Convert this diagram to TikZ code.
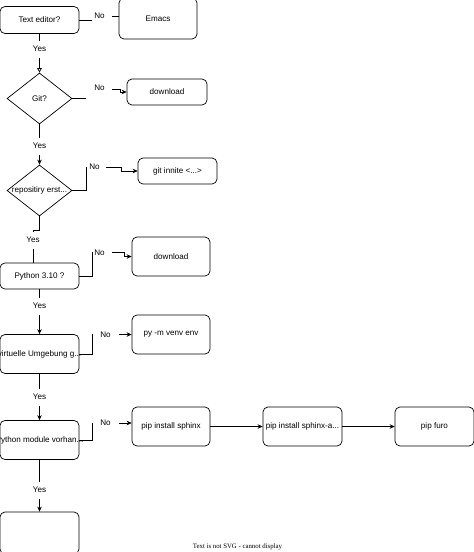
\documentclass[tikz,border=0pt]{standalone}
\usepackage{fontspec}
\setmainfont{Liberation Sans}
\newfontfamily\notefont{Liberation Serif}
\usetikzlibrary{shapes.geometric,arrows.meta}

\begin{document}
\begin{tikzpicture}[x=1pt,y=-1pt,line width=0.7pt,
    font=\fontsize{8.1}{10}\selectfont,
    box/.style={draw,rounded corners=5pt,inner sep=0pt,minimum width=79pt,minimum height=39pt},
    dia/.style={draw,diamond,inner sep=0pt,minimum width=65pt,minimum height=51pt},
    yes/.style={fill=white,inner sep=1pt,minimum height=17pt},
    no/.style={fill=white,anchor=west,inner sep=0pt,minimum height=12pt,align=left,text width=#1},
    tip/.style={-{Stealth[length=5pt,width=4.5pt]}}]
    \path[fill=white,use as bounding box] (0,0) rectangle (474,552);

    % Left column: questions
    \node[box,minimum height=27pt] (te) at (39.5,20) {Text editor?};
    \node[dia] (git) at (39.5,98.5) {Git?};
    \node[dia] (repo) at (39.5,190.5) {\makebox[0pt]{repositiry erst...}};
    \node[box,minimum height=26pt] (py) at (39.5,276) {Python 3.10 ?};
    \node[box] (venvq) at (39.5,354) {\makebox[0pt]{virtuelle Umgebung g...}};
    \node[box] (modq) at (39.5,440) {\makebox[0pt]{Python module vorhan...}};
    \node[box,minimum height=42pt] (last) at (39.5,533) {};

    % Right column: actions
    \node[box,minimum width=78pt,minimum height=41pt] (emacs) at (158,18.5) {Emacs};
    \node[box,minimum width=80pt,minimum height=26pt] (dl1) at (167,92) {download};
    \node[box,minimum height=26pt] (gi) at (177.5,171) {git innite <...>};
    \node[box,minimum width=78pt] (dl2) at (171,256.5) {download};
    \node[box,minimum width=78pt] (venv) at (171,334.5) {py -m venv env};
    \node[box,minimum width=78pt] (sphinx) at (171,426.5) {pip install sphinx};
    \node[box] (sphinxa) at (302.5,426.5) {pip install sphinx-a...};
    \node[box] (furo) at (434.5,426.5) {pip furo};

    % Yes branches
    \draw[-{Triangle[open,length=4.5pt,width=4.5pt]}] (te) -- (git) node[yes] (y1) at (39.5,49) {Yes};
    \draw[tip] (git) -- (repo) node[yes] (y2) at (39.5,146) {Yes};
    \draw (repo.south) -- ++(0,13.5) -| (py.north -| 33,0) node[yes] (y3) at (33,240) {Yes};
    \draw[tip] (py) -- (venvq) node[yes] (y4) at (39.5,306) {Yes};
    \draw[tip] (venvq) -- (modq) node[yes] (y5) at (39.5,397) {Yes};
    \draw[tip] (modq) -- (last) node[yes] (y6) at (39.5,490) {Yes};

    % No branches
    \draw (te.east) -- ++(13,0) |- (emacs.west |- 0,16) node[no=20pt] (n1) at (92,16) {\hspace*{2pt}No};
    \draw[tip] (git.east) -- ++(20,0) |- (120,89) |- (dl1.west) node[no=26pt,minimum height=24pt] (n2) at (86,88) {\hspace*{8pt}No};
    \draw[tip] (repo.east) -- ++(14,0) |- (121,167) |- (gi.west) node[no=19pt] (n3) at (87,167) {\hspace*{2pt}No};
    \draw[tip] (py.east) -- ++(13,0) |- (124,252.5) |- (dl2.west) node[no=19pt] (n4) at (93,252.5) {\hspace*{1pt}No};
    \draw[tip] (venvq.east) -- ++(13,0) |- (venv.west) node[no=26pt] (n5) at (92.5,334.5) {\hspace*{7.5pt}No};
    \draw[tip] (modq.east) -- ++(13,0) |- (sphinx.west |- 0,423) node[no=26pt] (n6) at (92.5,423) {\hspace*{7.5pt}No};

    % pip chain
    \draw[tip] (sphinx) -- (sphinxa);
    \draw[tip] (sphinxa) -- (furo);

    \node[font=\notefont\fontsize{6.8}{8}\selectfont] (note) at (237.5,547) {Text is not SVG - cannot display};
\end{tikzpicture}
\end{document}
